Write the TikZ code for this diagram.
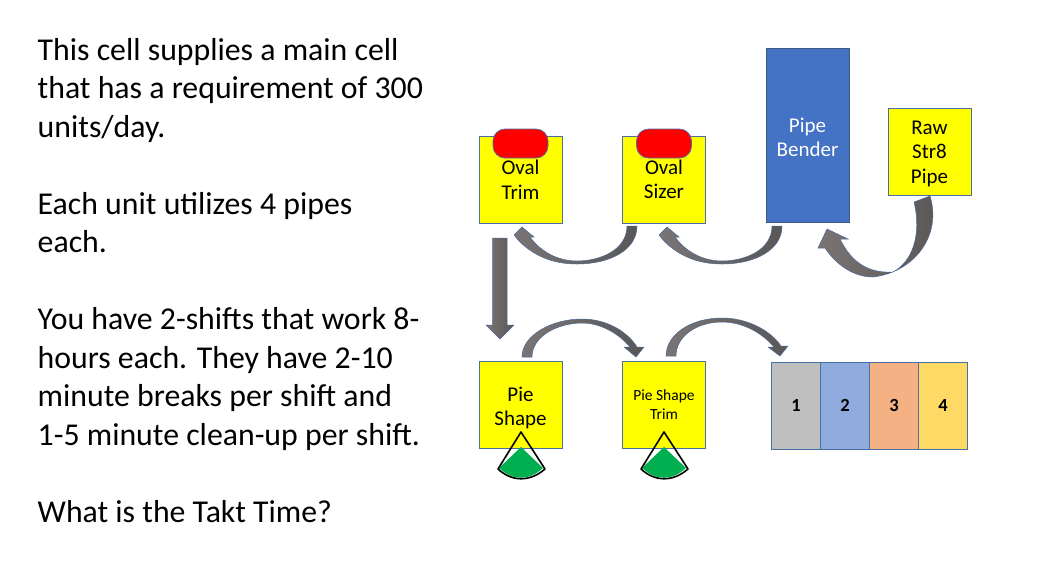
\documentclass[tikz,border=0pt]{standalone}
\usepackage{fontspec}
\setmainfont{Carlito}
\definecolor{boxline}{HTML}{4A6FA5}
\definecolor{arrowline}{HTML}{4A6A9C}
\definecolor{yel}{HTML}{FFFF00}
\definecolor{pipeblue}{HTML}{4472C4}
\definecolor{greenpie}{HTML}{00B050}
\definecolor{darkflow}{HTML}{5A5655}
\definecolor{lightflow}{HTML}{7A7574}
\tikzset{
  machine/.style={draw=boxline,line width=0.7pt,fill=yel,minimum width=83pt,minimum height=87pt,inner sep=0pt,align=center,font=\fontsize{21}{24.5}\selectfont},
  pipebox/.style={machine,draw=boxline!80!black,fill=pipeblue,minimum height=174pt,text=white},
  slot/.style={draw=boxline,line width=0.7pt,minimum width=49pt,minimum height=87pt,inner sep=0pt,font=\fontsize{18.5}{20}\selectfont\bfseries},
  ovaltool/.style={draw=boxline,line width=0.7pt,fill=red,rounded corners=12pt},
  flow/.style={draw=arrowline,line width=0.5pt,left color=lightflow,right color=darkflow},
  piecut/.style={draw=black,line width=1.6pt,line join=round},
  brief/.style={inner sep=0pt,anchor=north west,align=left,font=\fontsize{31.8}{38.5}\selectfont}
}
\newcommand{\pieback}[1]{\fill[white,shift={(#1,0)}] (-10,448) -- (-23,469) .. controls (-9,482) and (9,482) .. (24,469) -- (10,448) -- cycle;}
\newcommand{\piefront}[1]{%
  \fill[greenpie,shift={(#1,0)}] (0,447) -- (-22,468) .. controls (-8,481) and (8,481) .. (22,468) -- cycle;
  \draw[piecut,shift={(#1,0)}] (0,432) -- (-23,469) .. controls (-9,482) and (9,482) .. (24,469) -- cycle;}
\begin{document}
\begin{tikzpicture}[x=1pt,y=-1pt]
\useasboundingbox (0,0) rectangle (1042,566);
\node[brief] (brief) at (37.5,38) {This cell supplies a main cell\\that has a requirement of 300\\units/day.\\[38.5pt]Each unit utilizes 4 pipes\\each.\\[38.5pt]You have 2-shifts that work 8-\\hours each.  They have 2-10\\minute breaks per shift and\\1-5 minute clean-up per shift.\\[38.5pt]What is the Takt Time?};

\pieback{521}\pieback{664}
\node[machine] (ovaltrim) at (520.5,179.5) {Oval\\Trim};
\node[machine] (ovalsizer) at (664,179.5) {Oval\\Sizer};
\node[pipebox] (bender) at (807.5,135) {\rule{0pt}{19pt}Pipe\\Bender};
\node[machine] (raw) at (929.5,151.5) {\rule{0pt}{18pt}Raw\\Str8\\Pipe};
\node[machine] (pieshape) at (520.5,404.5) {\rule{0pt}{21pt}Pie\\Shape};
\node[machine,font=\fontsize{15.5}{19}\selectfont] (pietrim) at (664,404.5) {Pie Shape\\Trim};

\draw[ovaltool] (493,129) rectangle (548,158);
\draw[ovaltool] (636.5,129) rectangle (691.5,158);
\piefront{521}\piefront{664}

\node[slot,fill=black!25] (s1) at (796,405.5) {1};
\node[slot,fill={rgb,255:red,143;green,170;blue,220}] (s2) at (845,405.5) {2};
\node[slot,fill={rgb,255:red,244;green,177;blue,131}] (s3) at (894,405.5) {3};
\node[slot,fill={rgb,255:red,255;green,217;blue,102}] (s4) at (943,405.5) {4};

% Oval Sizer -> Oval Trim
\draw[flow] (637,226) .. controls (637,250) and (610,264) .. (577,264) .. controls (553,264) and (534,256) .. (519,241) -- (514,235) -- (522,227) -- (534,237) -- (530,237) .. controls (541,252) and (558,261) .. (577,261) .. controls (600,261) and (627,250) .. (627,226) -- cycle;
% Pipe Bender -> Oval Sizer
\draw[flow] (782,226) .. controls (782,250) and (755,264) .. (722,264) .. controls (698,264) and (679,256) .. (664,241) -- (659,235) -- (667,227) -- (679,237) -- (675,237) .. controls (686,252) and (703,261) .. (722,261) .. controls (745,261) and (772,250) .. (772,226) -- cycle;
% Raw -> Pipe Bender
\draw[flow] (930,196) .. controls (942,235) and (915,272) .. (873,277) .. controls (852,277) and (835,263) .. (825,248) -- (818,248) -- (827,229) -- (848,239) -- (840,239) .. controls (848,255) and (862,274) .. (893,272) .. controls (912,262) and (922,235) .. (914,202) -- cycle;
% Oval Trim -> Pie Shape
\draw[flow] (492.5,238) -- (507,238) -- (507,325) -- (514,325) -- (500,339) -- (486,325) -- (492.5,325) -- cycle;
% Pie Shape -> Pie Shape Trim
\draw[flow] (522,357) .. controls (522,335) and (552,319) .. (582,319) .. controls (606,319) and (627,331) .. (637,347) -- (644,347) -- (636,357) -- (624,347) -- (630,347) .. controls (620,335) and (602,323) .. (582,323) .. controls (558,323) and (532,336) .. (532,357) -- cycle;
% Pie Shape Trim -> slots
\draw[flow] (666,356) .. controls (666,335) and (690,318) .. (722,318) .. controls (748,318) and (771,331) .. (781,346) -- (788,346) -- (780,356) -- (768,347) -- (774,347) .. controls (764,335) and (745,322) .. (722,322) .. controls (697,322) and (676,336) .. (676,356) -- cycle;
\end{tikzpicture}
\end{document}
